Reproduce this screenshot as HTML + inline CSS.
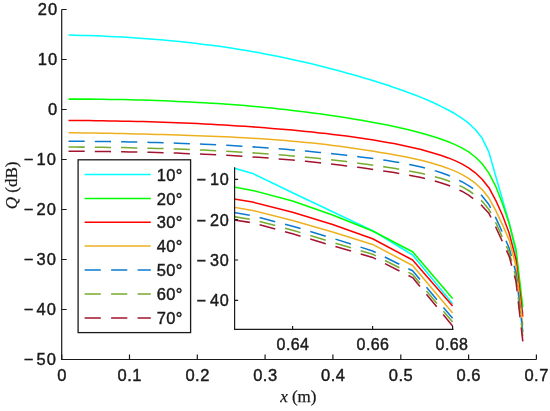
<!DOCTYPE html>
<html><head><meta charset="utf-8"><title>Q (dB) vs x (m)</title>
<style>html,body{margin:0;padding:0;background:#fff}svg{display:block}.t{font-family:"Liberation Sans",sans-serif;font-size:16.5px;fill:#1a1a1a;stroke:#1a1a1a;stroke-width:0.42px;letter-spacing:1.1px}.u{font-size:16.2px;letter-spacing:0.9px}.x{letter-spacing:0.5px}.g{letter-spacing:0.3px}.v{font-size:16px;letter-spacing:0.45px}.s{font-family:"Liberation Serif",serif;font-size:17px;fill:#1a1a1a;stroke:#1a1a1a;stroke-width:0.25px}.ax{stroke:#1a1a1a;stroke-width:1.2;fill:none}.c{fill:none;stroke-width:1.55;stroke-linejoin:round}</style></head><body>
<svg width="550" height="411" viewBox="0 0 550 411">
<rect width="550" height="411" fill="#fff"/>
<defs><clipPath id="ic"><rect x="234.6" y="162.2" width="221.9" height="167.2"/></clipPath></defs>
<path class="c" stroke="#00ffff" d="M68.5,35.0 L75.3,35.2 L82.0,35.4 L88.8,35.6 L95.6,35.8 L102.4,36.1 L109.2,36.4 L115.9,36.7 L122.7,37.1 L129.5,37.5 L136.3,38.0 L143.1,38.4 L149.9,38.9 L156.6,39.5 L163.4,40.1 L170.2,40.7 L177.0,41.3 L183.8,42.0 L190.5,42.8 L197.3,43.5 L204.1,44.4 L210.9,45.2 L217.7,46.1 L224.4,47.1 L231.2,48.1 L238.0,49.2 L244.8,50.3 L251.6,51.4 L258.3,52.6 L265.1,53.9 L271.9,55.2 L278.7,56.5 L285.5,57.9 L292.3,59.4 L299.0,60.9 L305.8,62.5 L312.6,64.1 L319.4,65.7 L326.2,67.5 L332.9,69.2 L339.7,71.0 L346.5,72.9 L353.3,74.8 L360.1,76.7 L366.8,78.7 L373.6,80.8 L380.4,82.9 L387.2,85.1 L394.0,87.4 L400.8,89.7 L407.5,92.2 L414.3,94.7 L421.1,97.4 L427.9,100.3 L434.7,103.3 L441.4,106.6 L448.2,110.0 L455.0,113.8 L461.8,118.1 L468.6,123.2 L475.3,129.5 L482.1,138.1 L488.9,152.1 L495.7,176.0 L502.5,199.6 L509.2,223.0 L516.0,253.3 L522.8,313.7"/>
<path class="c" stroke="#00ff00" d="M68.5,99.1 L75.3,99.1 L82.0,99.1 L88.8,99.1 L95.6,99.2 L102.4,99.3 L109.2,99.4 L115.9,99.5 L122.7,99.6 L129.5,99.8 L136.3,99.9 L143.1,100.1 L149.9,100.3 L156.6,100.6 L163.4,100.8 L170.2,101.1 L177.0,101.4 L183.8,101.7 L190.5,102.0 L197.3,102.4 L204.1,102.8 L210.9,103.2 L217.7,103.6 L224.4,104.1 L231.2,104.6 L238.0,105.1 L244.8,105.6 L251.6,106.2 L258.3,106.8 L265.1,107.5 L271.9,108.1 L278.7,108.9 L285.5,109.6 L292.3,110.4 L299.0,111.2 L305.8,112.0 L312.6,112.9 L319.4,113.8 L326.2,114.8 L332.9,115.8 L339.7,116.8 L346.5,117.8 L353.3,118.9 L360.1,120.1 L366.8,121.3 L373.6,122.5 L380.4,123.8 L387.2,125.1 L394.0,126.5 L400.8,128.0 L407.5,129.6 L414.3,131.3 L421.1,133.1 L427.9,135.0 L434.7,137.1 L441.4,139.3 L448.2,141.8 L455.0,144.6 L461.8,147.9 L468.6,151.9 L475.3,157.0 L482.1,163.8 L488.9,173.1 L495.7,186.3 L502.5,203.7 L509.2,223.5 L516.0,249.2 L522.8,307.1"/>
<path class="c" stroke="#ff0000" d="M68.5,120.4 L75.3,120.5 L82.0,120.5 L88.8,120.6 L95.6,120.7 L102.4,120.8 L109.2,120.9 L115.9,121.0 L122.7,121.2 L129.5,121.3 L136.3,121.5 L143.1,121.6 L149.9,121.8 L156.6,122.0 L163.4,122.3 L170.2,122.5 L177.0,122.8 L183.8,123.0 L190.5,123.3 L197.3,123.6 L204.1,124.0 L210.9,124.3 L217.7,124.7 L224.4,125.1 L231.2,125.5 L238.0,125.9 L244.8,126.3 L251.6,126.8 L258.3,127.3 L265.1,127.8 L271.9,128.4 L278.7,128.9 L285.5,129.5 L292.3,130.1 L299.0,130.8 L305.8,131.5 L312.6,132.1 L319.4,132.9 L326.2,133.6 L332.9,134.4 L339.7,135.2 L346.5,136.1 L353.3,137.0 L360.1,138.0 L366.8,139.0 L373.6,140.0 L380.4,141.2 L387.2,142.4 L394.0,143.6 L400.8,145.0 L407.5,146.4 L414.3,148.0 L421.1,149.6 L427.9,151.4 L434.7,153.4 L441.4,155.6 L448.2,157.9 L455.0,160.6 L461.8,163.9 L468.6,167.8 L475.3,172.8 L482.1,179.2 L488.9,187.7 L495.7,200.3 L502.5,215.3 L509.2,233.2 L516.0,259.5 L522.8,316.6"/>
<path class="c" stroke="#edb120" d="M68.5,132.7 L75.3,132.8 L82.0,132.9 L88.8,133.0 L95.6,133.1 L102.4,133.2 L109.2,133.3 L115.9,133.5 L122.7,133.6 L129.5,133.7 L136.3,133.9 L143.1,134.1 L149.9,134.2 L156.6,134.4 L163.4,134.6 L170.2,134.8 L177.0,135.0 L183.8,135.2 L190.5,135.4 L197.3,135.7 L204.1,135.9 L210.9,136.2 L217.7,136.5 L224.4,136.8 L231.2,137.1 L238.0,137.5 L244.8,137.8 L251.6,138.2 L258.3,138.6 L265.1,139.1 L271.9,139.6 L278.7,140.1 L285.5,140.6 L292.3,141.2 L299.0,141.8 L305.8,142.4 L312.6,143.1 L319.4,143.8 L326.2,144.6 L332.9,145.4 L339.7,146.3 L346.5,147.2 L353.3,148.2 L360.1,149.2 L366.8,150.2 L373.6,151.3 L380.4,152.4 L387.2,153.5 L394.0,154.7 L400.8,156.0 L407.5,157.3 L414.3,158.8 L421.1,160.3 L427.9,162.0 L434.7,163.9 L441.4,166.0 L448.2,168.4 L455.0,171.1 L461.8,174.4 L468.6,178.3 L475.3,183.2 L482.1,189.6 L488.9,198.0 L495.7,210.4 L502.5,224.8 L509.2,240.1 L516.0,266.3 L522.8,325.3"/>
<path class="c" stroke="#0a7bd0" stroke-dasharray="16.2 10.1" d="M68.5,141.2 L75.3,141.3 L82.0,141.3 L88.8,141.4 L95.6,141.4 L102.4,141.5 L109.2,141.6 L115.9,141.7 L122.7,141.8 L129.5,141.9 L136.3,142.0 L143.1,142.2 L149.9,142.4 L156.6,142.5 L163.4,142.7 L170.2,142.9 L177.0,143.2 L183.8,143.4 L190.5,143.7 L197.3,143.9 L204.1,144.2 L210.9,144.6 L217.7,144.9 L224.4,145.2 L231.2,145.6 L238.0,146.0 L244.8,146.4 L251.6,146.8 L258.3,147.3 L265.1,147.8 L271.9,148.3 L278.7,148.8 L285.5,149.3 L292.3,149.9 L299.0,150.5 L305.8,151.1 L312.6,151.7 L319.4,152.4 L326.2,153.1 L332.9,153.8 L339.7,154.5 L346.5,155.3 L353.3,156.1 L360.1,156.9 L366.8,157.7 L373.6,158.6 L380.4,159.6 L387.2,160.6 L394.0,161.7 L400.8,162.8 L407.5,164.1 L414.3,165.4 L421.1,167.0 L427.9,168.7 L434.7,170.6 L441.4,172.8 L448.2,175.3 L455.0,178.3 L461.8,181.7 L468.6,185.6 L475.3,190.0 L482.1,195.9 L488.9,204.5 L495.7,217.6 L502.5,232.5 L509.2,248.3 L516.0,272.9 L522.8,331.8"/>
<path class="c" stroke="#77ac30" stroke-dasharray="16.2 10.1" d="M68.5,147.0 L75.3,147.1 L82.0,147.1 L88.8,147.2 L95.6,147.2 L102.4,147.3 L109.2,147.4 L115.9,147.5 L122.7,147.6 L129.5,147.8 L136.3,147.9 L143.1,148.1 L149.9,148.2 L156.6,148.4 L163.4,148.6 L170.2,148.8 L177.0,149.1 L183.8,149.3 L190.5,149.6 L197.3,149.8 L204.1,150.1 L210.9,150.5 L217.7,150.8 L224.4,151.1 L231.2,151.5 L238.0,151.9 L244.8,152.3 L251.6,152.8 L258.3,153.2 L265.1,153.7 L271.9,154.2 L278.7,154.8 L285.5,155.3 L292.3,155.9 L299.0,156.5 L305.8,157.2 L312.6,157.8 L319.4,158.5 L326.2,159.3 L332.9,160.0 L339.7,160.8 L346.5,161.6 L353.3,162.5 L360.1,163.4 L366.8,164.3 L373.6,165.2 L380.4,166.2 L387.2,167.2 L394.0,168.3 L400.8,169.4 L407.5,170.6 L414.3,171.9 L421.1,173.3 L427.9,174.8 L434.7,176.6 L441.4,178.5 L448.2,180.8 L455.0,183.5 L461.8,186.6 L468.6,190.5 L475.3,195.3 L482.1,201.3 L488.9,209.4 L495.7,222.5 L502.5,237.5 L509.2,252.3 L516.0,277.5 L522.8,336.4"/>
<path class="c" stroke="#a2142f" stroke-dasharray="16.2 10.1" d="M68.5,151.3 L75.3,151.3 L82.0,151.3 L88.8,151.4 L95.6,151.4 L102.4,151.5 L109.2,151.6 L115.9,151.7 L122.7,151.8 L129.5,151.9 L136.3,152.0 L143.1,152.2 L149.9,152.3 L156.6,152.5 L163.4,152.7 L170.2,152.9 L177.0,153.1 L183.8,153.4 L190.5,153.7 L197.3,153.9 L204.1,154.2 L210.9,154.5 L217.7,154.9 L224.4,155.2 L231.2,155.6 L238.0,156.0 L244.8,156.4 L251.6,156.9 L258.3,157.3 L265.1,157.8 L271.9,158.3 L278.7,158.9 L285.5,159.5 L292.3,160.0 L299.0,160.7 L305.8,161.3 L312.6,162.0 L319.4,162.7 L326.2,163.5 L332.9,164.2 L339.7,165.0 L346.5,165.9 L353.3,166.7 L360.1,167.6 L366.8,168.5 L373.6,169.5 L380.4,170.5 L387.2,171.5 L394.0,172.6 L400.8,173.7 L407.5,174.9 L414.3,176.2 L421.1,177.6 L427.9,179.2 L434.7,180.9 L441.4,182.9 L448.2,185.2 L455.0,188.0 L461.8,191.2 L468.6,195.2 L475.3,200.1 L482.1,205.9 L488.9,213.3 L495.7,227.0 L502.5,241.8 L509.2,256.3 L516.0,281.3 L522.8,341.4"/>
<path class="ax" d="M61.7,9.5 V359.5 H536.4"/>
<path class="ax" d="M61.7,9.5 h5 M61.7,59.5 h5 M61.7,109.5 h5 M61.7,159.5 h5 M61.7,209.5 h5 M61.7,259.5 h5 M61.7,309.5 h5 M61.7,359.5 h5 M61.7,359.5 v-5 M129.5,359.5 v-5 M197.3,359.5 v-5 M265.1,359.5 v-5 M332.9,359.5 v-5 M400.8,359.5 v-5 M468.6,359.5 v-5 M536.4,359.5 v-5 "/>
<text class="t" transform="translate(58.3 15.2) scale(1.0 1)" text-anchor="end">20</text>
<text class="t" transform="translate(58.3 65.2) scale(1.0 1)" text-anchor="end">10</text>
<text class="t" transform="translate(58.3 115.2) scale(1.0 1)" text-anchor="end">0</text>
<text class="t" transform="translate(57.1 165.2) scale(1.0 1)" text-anchor="end">10</text>
<text class="t" transform="translate(23.7 165.2) scale(1.0 1)" text-anchor="start">−</text>
<text class="t" transform="translate(57.1 215.2) scale(1.0 1)" text-anchor="end">20</text>
<text class="t" transform="translate(23.7 215.2) scale(1.0 1)" text-anchor="start">−</text>
<text class="t" transform="translate(57.1 265.2) scale(1.0 1)" text-anchor="end">30</text>
<text class="t" transform="translate(23.7 265.2) scale(1.0 1)" text-anchor="start">−</text>
<text class="t" transform="translate(57.1 315.2) scale(1.0 1)" text-anchor="end">40</text>
<text class="t" transform="translate(23.7 315.2) scale(1.0 1)" text-anchor="start">−</text>
<text class="t" transform="translate(57.1 365.2) scale(1.0 1)" text-anchor="end">50</text>
<text class="t" transform="translate(23.7 365.2) scale(1.0 1)" text-anchor="start">−</text>
<text class="t x" transform="translate(62.0 380.5) scale(1.0 1)" text-anchor="middle">0</text>
<text class="t x" transform="translate(129.8 380.5) scale(1.0 1)" text-anchor="middle">0.1</text>
<text class="t x" transform="translate(197.6 380.5) scale(1.0 1)" text-anchor="middle">0.2</text>
<text class="t x" transform="translate(265.4 380.5) scale(1.0 1)" text-anchor="middle">0.3</text>
<text class="t x" transform="translate(333.2 380.5) scale(1.0 1)" text-anchor="middle">0.4</text>
<text class="t x" transform="translate(401.0 380.5) scale(1.0 1)" text-anchor="middle">0.5</text>
<text class="t x" transform="translate(468.8 380.5) scale(1.0 1)" text-anchor="middle">0.6</text>
<text class="t x" transform="translate(536.6 380.5) scale(1.0 1)" text-anchor="middle">0.7</text>
<text class="s" x="298.3" y="402.4" text-anchor="middle"><tspan font-style="italic">x</tspan> (m)</text>
<text class="s" transform="translate(16.5,185.4) rotate(-90)" text-anchor="middle"><tspan font-style="italic">Q</tspan> (dB)</text>
<rect x="78.1" y="159.8" width="112.5" height="172.8" fill="#fff" stroke="#1a1a1a" stroke-width="1.3"/>
<path class="c" stroke="#00ffff" d="M84.6,174.4 H150.8"/>
<text class="t g" transform="translate(156.8 180.6) scale(1.0 1)" text-anchor="start">10°</text>
<path class="c" stroke="#00ff00" d="M84.6,198.4 H150.8"/>
<text class="t g" transform="translate(156.8 204.6) scale(1.0 1)" text-anchor="start">20°</text>
<path class="c" stroke="#ff0000" d="M84.6,222.2 H150.8"/>
<text class="t g" transform="translate(156.8 228.4) scale(1.0 1)" text-anchor="start">30°</text>
<path class="c" stroke="#edb120" d="M84.6,246 H150.8"/>
<text class="t g" transform="translate(156.8 252.2) scale(1.0 1)" text-anchor="start">40°</text>
<path class="c" stroke="#0a7bd0" stroke-dasharray="16.2 10.3" d="M84.6,270 H150.8"/>
<text class="t g" transform="translate(156.8 276.2) scale(1.0 1)" text-anchor="start">50°</text>
<path class="c" stroke="#77ac30" stroke-dasharray="16.2 10.3" d="M84.6,294 H150.8"/>
<text class="t g" transform="translate(156.8 300.2) scale(1.0 1)" text-anchor="start">60°</text>
<path class="c" stroke="#a2142f" stroke-dasharray="16.2 10.3" d="M84.6,318 H150.8"/>
<text class="t g" transform="translate(156.8 324.2) scale(1.0 1)" text-anchor="start">70°</text>
<g clip-path="url(#ic)">
<path class="c" stroke="#00ffff" d="M233.8,168.1 L252.6,173.4 L292.6,192.7 L332.6,211.7 L372.6,230.6 L412.6,255.0 L452.6,303.7"/>
<path class="c" stroke="#00ff00" d="M233.8,186.9 L252.6,190.4 L292.6,201.0 L332.6,215.0 L372.6,231.0 L412.6,251.7 L452.6,298.4"/>
<path class="c" stroke="#ff0000" d="M233.8,198.9 L252.6,202.1 L292.6,212.3 L332.6,224.4 L372.6,238.8 L412.6,260.0 L452.6,306.0"/>
<path class="c" stroke="#edb120" d="M233.8,207.2 L252.6,210.4 L292.6,220.4 L332.6,232.0 L372.6,244.4 L412.6,265.5 L452.6,313.0"/>
<path class="c" stroke="#0a7bd0" stroke-dasharray="16.2 10.1" d="M233.8,212.4 L252.6,215.7 L292.6,226.2 L332.6,238.2 L372.6,251.0 L412.6,270.8 L452.6,318.3"/>
<path class="c" stroke="#77ac30" stroke-dasharray="16.2 10.1" d="M233.8,216.6 L252.6,219.6 L292.6,230.2 L332.6,242.3 L372.6,254.2 L412.6,274.5 L452.6,322.0"/>
<path class="c" stroke="#a2142f" stroke-dasharray="16.2 10.1" d="M233.8,220.0 L252.6,222.8 L292.6,233.8 L332.6,245.7 L372.6,257.4 L412.6,277.6 L452.6,326.0"/>
</g>
<path class="ax" d="M234.6,167.2 V329.4 H453.5"/>
<path class="ax" d="M234.6,179.4 h3.5 M234.6,219.7 h3.5 M234.6,260.0 h3.5 M234.6,300.3 h3.5 M292.6,329.4 v-3.5 M372.6,329.4 v-3.5 M452.6,329.4 v-3.5 "/>
<text class="t u" transform="translate(229.7 185.4) scale(1.0 1)" text-anchor="end">10</text>
<text class="t u" transform="translate(196.6 185.4) scale(1.0 1)" text-anchor="start">−</text>
<text class="t u" transform="translate(229.7 225.7) scale(1.0 1)" text-anchor="end">20</text>
<text class="t u" transform="translate(196.6 225.7) scale(1.0 1)" text-anchor="start">−</text>
<text class="t u" transform="translate(229.7 266.0) scale(1.0 1)" text-anchor="end">30</text>
<text class="t u" transform="translate(196.6 266.0) scale(1.0 1)" text-anchor="start">−</text>
<text class="t u" transform="translate(229.7 306.3) scale(1.0 1)" text-anchor="end">40</text>
<text class="t u" transform="translate(196.6 306.3) scale(1.0 1)" text-anchor="start">−</text>
<text class="t v" transform="translate(293.0 350.4) scale(1.0 1)" text-anchor="middle">0.64</text>
<text class="t v" transform="translate(373.0 350.4) scale(1.0 1)" text-anchor="middle">0.66</text>
<text class="t v" transform="translate(452.0 350.4) scale(1.0 1)" text-anchor="middle">0.68</text>
</svg></body></html>
